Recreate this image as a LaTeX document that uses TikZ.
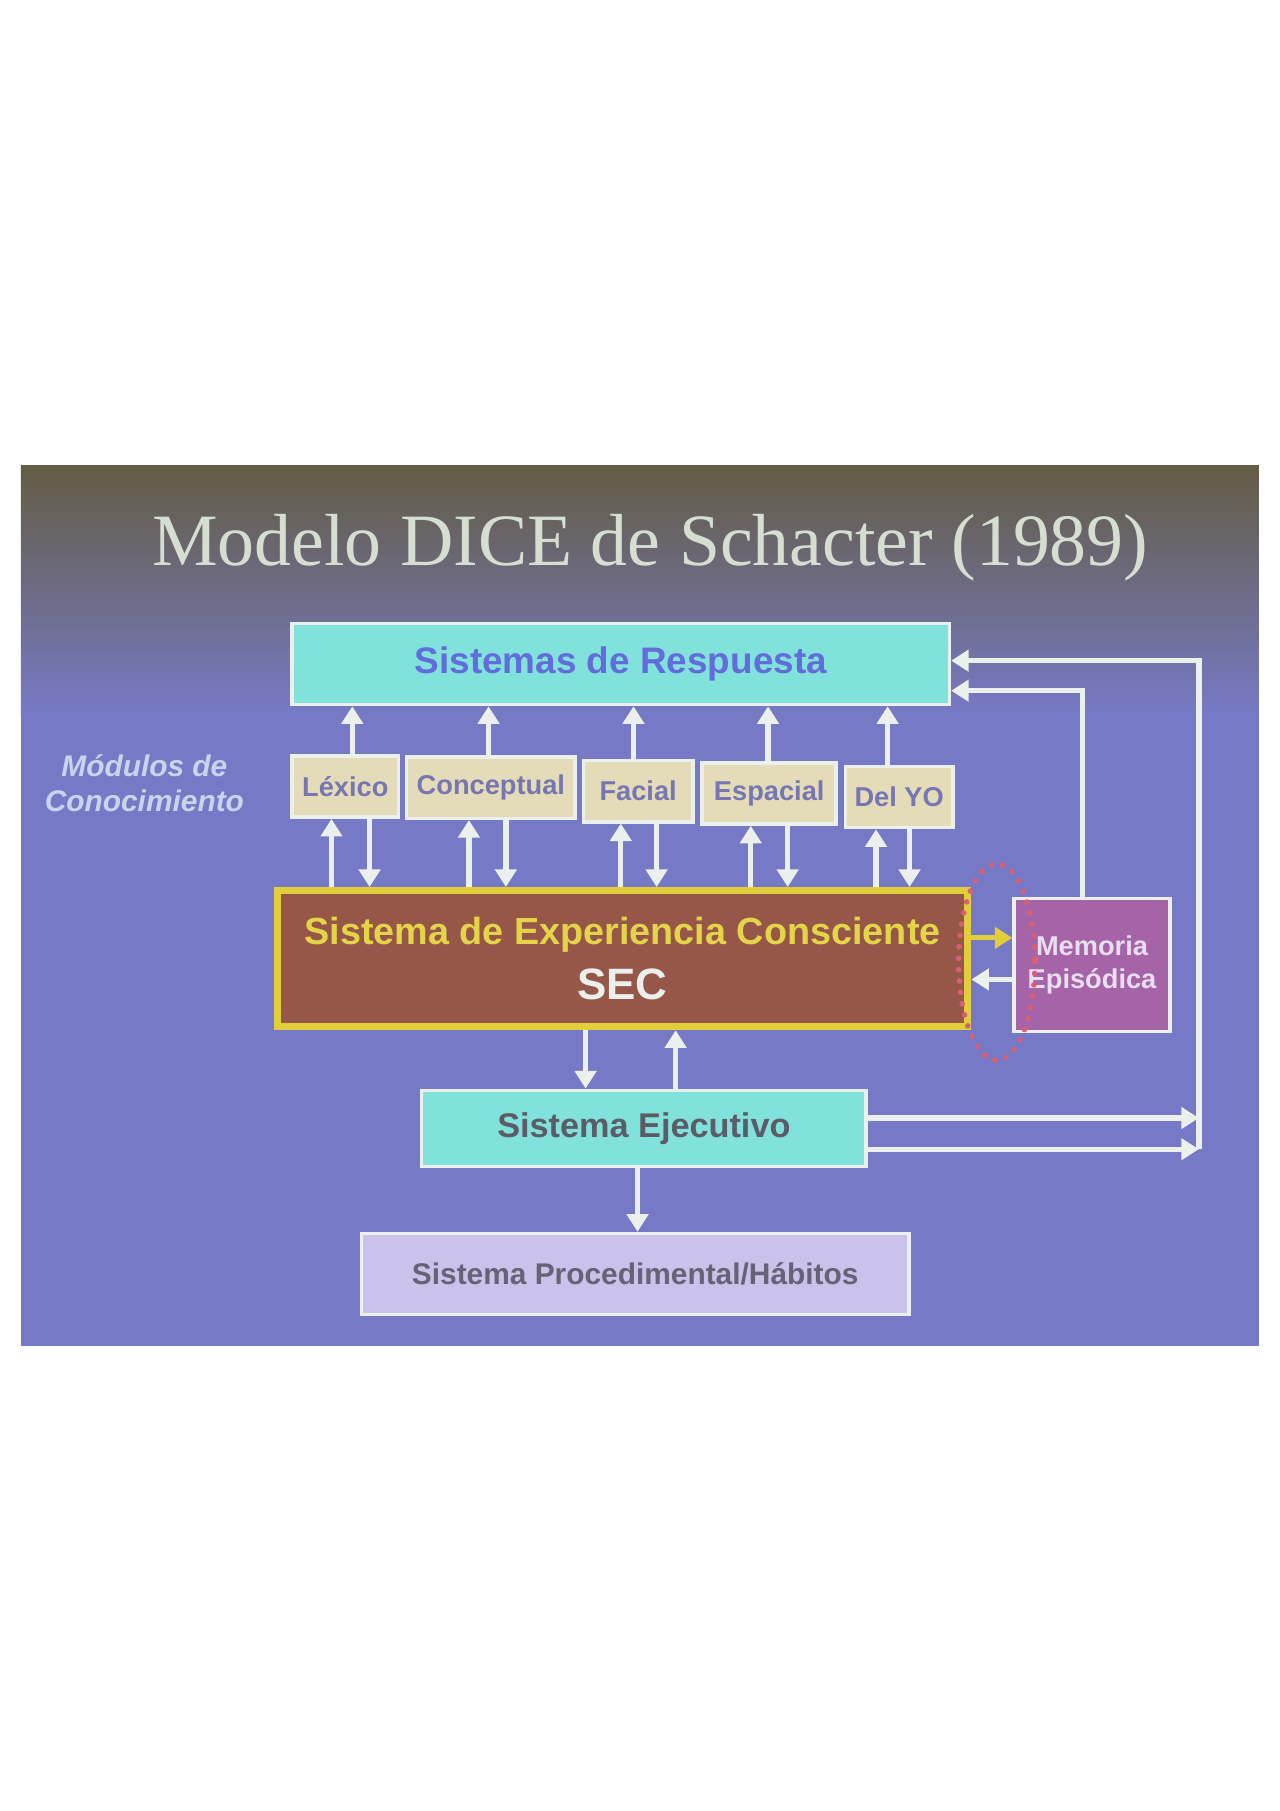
\documentclass[tikz,border=0pt]{standalone}
\usepackage{fontspec}
\setmainfont{Liberation Serif}
\setsansfont{Liberation Sans}
\usetikzlibrary{calc,arrows.meta}

\definecolor{slideTop}{RGB}{100,92,68}
\definecolor{slideGrey}{RGB}{112,106,122}
\definecolor{slideMid}{RGB}{118,122,198}
\definecolor{edge}{RGB}{236,240,236}
\definecolor{respFill}{RGB}{128,226,218}
\definecolor{respText}{RGB}{98,108,218}
\definecolor{modFill}{RGB}{228,220,184}
\definecolor{modText}{RGB}{118,118,178}
\definecolor{modLabel}{RGB}{200,212,236}
\definecolor{secFill}{RGB}{150,86,72}
\definecolor{secEdge}{RGB}{226,206,58}
\definecolor{secText}{RGB}{228,212,72}
\definecolor{memFill}{RGB}{166,100,168}
\definecolor{memText}{RGB}{232,222,240}
\definecolor{ejeText}{RGB}{92,92,104}
\definecolor{procFill}{RGB}{202,194,234}
\definecolor{procText}{RGB}{104,98,116}
\definecolor{titleText}{RGB}{214,222,210}
\definecolor{ringRed}{RGB}{216,96,116}

\def\px{0.0231cm}

\begin{document}
\begin{tikzpicture}[x=0.0231cm,y=-0.0231cm,
  box/.style={draw=edge, line width=2pt, inner sep=0pt},
  modbox/.style={box, fill=modFill, text=modText, minimum height=53*\px,
    font=\sffamily\bfseries\fontsize{15.5}{18}\selectfont},
  arr/.style={draw=edge, line width=3pt, -{Triangle[length=10pt,width=12pt]}}]
  \useasboundingbox (0,0) rectangle (1108,1568);
  \fill[white] (0,0) rectangle (1108,1568);

  %% the slide
  \fill[slideMid] (18,403) rectangle (1090,1165);
  \shade[top color=slideTop, middle color=slideGrey, bottom color=slideMid] (18,403) rectangle (1090,620);

  \node[text=titleText, font=\fontsize{42}{50}\selectfont] (title) at (563,474)
    {Modelo DICE de Schacter (1989)};

  %% boxes
  \node[box, fill=respFill, text=respText, minimum width=569*\px, minimum height=70*\px,
    font=\sffamily\bfseries\fontsize{21}{24}\selectfont] (resp) at (537.5,575) {Sistemas de Respuesta};

  \node[text=modLabel, align=center, font=\sffamily\bfseries\itshape\fontsize{17}{20}\selectfont]
    (modlbl) at (125,678) {Módulos de\\Conocimiento};

  \foreach \mod/\cx/\cy/\w/\lbl in {lex/299/681/92/Léxico, con/425/682/146/Conceptual,
      fac/552.5/685/95/Facial, esp/666/687/116/Espacial, yo/778.5/690/93/Del YO}
    \node[modbox, minimum width=\w*\px] (\mod) at (\cx,\cy) {\lbl};

  \node[draw=secEdge, line width=4pt, fill=secFill, text=edge, inner sep=0pt,
    minimum width=598*\px, minimum height=118*\px, align=center,
    font=\sffamily\bfseries\fontsize{21.5}{26}\selectfont] (sec) at (539,830)
    {\textcolor{secText}{Sistema de Experiencia Consciente}\\[5pt]{\fontsize{25}{28}\selectfont SEC}};

  \node[box, fill=memFill, text=memText, minimum width=135*\px, minimum height=115*\px,
    align=center, font=\sffamily\bfseries\fontsize{15.5}{18.5}\selectfont] (mem) at (945.5,835.5)
    {Memoria\\Episódica};

  \node[box, fill=respFill, text=ejeText, minimum width=385*\px, minimum height=66*\px,
    font=\sffamily\bfseries\fontsize{19.5}{22}\selectfont] (eje) at (557.5,977) {Sistema Ejecutivo};

  \node[box, fill=procFill, text=procText, minimum width=474*\px, minimum height=70*\px,
    font=\sffamily\bfseries\fontsize{17}{20}\selectfont] (proc) at (550,1103)
    {Sistema Procedimental/Hábitos};

  %% modules: up to the responses, both ways with the SEC
  \foreach \mod/\toR/\fromS/\toS in {lex/6/-12/21, con/-2/-19/13, fac/-4/-15/16,
      esp/-1/-16/16, yo/-10/-20/9}
  {
    \path ($(\mod.north)+(\toR,0)$) coordinate (mr);
    \draw[arr] (mr) -- (mr |- resp.south);
    \path ($(\mod.south)+(\fromS,0)$) coordinate (ms);
    \draw[arr] (ms |- sec.north) -- (ms);
    \path ($(\mod.south)+(\toS,0)$) coordinate (md);
    \draw[arr] (md) -- (md |- sec.north);
  }

  %% SEC and episodic memory
  \path ($(sec.east)+(0,-18)$) coordinate (sm);
  \draw[arr, draw=secEdge] (sm) -- (sm -| mem.west);
  \path ($(sec.east)+(0,18)$) coordinate (ms2);
  \draw[arr] (ms2 -| mem.west) -- (ms2);
  \draw[ringRed, line width=3.2pt, line cap=round, dash pattern=on 0pt off 6.5pt]
    (863,833) ellipse [x radius=33, y radius=85];

  %% feedback to the responses
  \path ($(mem.north)+(-8,0)$) coordinate (memUp);
  \draw[arr] (memUp) |- ($(resp.east)+(0,23)$);
  \coordinate (railB) at (1038,995);
  \draw[arr] (railB) |- ($(resp.east)+(0,-3)$);
  \path ($(eje.east)+(0,-9)$) coordinate (e1);
  \draw[arr] (e1) -- (e1 -| railB);
  \path ($(eje.east)+(0,18)$) coordinate (e2);
  \draw[arr] (e2) -- (e2 -| railB);

  %% SEC, executive and habits
  \path ($(sec.south)+(-32,0)$) coordinate (sd);
  \draw[arr] (sd) -- (sd |- eje.north);
  \path ($(sec.south)+(46,0)$) coordinate (su);
  \draw[arr] (su |- eje.north) -- (su);
  \path ($(eje.south)+(-5.5,0)$) coordinate (ep);
  \draw[arr] (ep) -- (ep |- proc.north);
\end{tikzpicture}
\end{document}
